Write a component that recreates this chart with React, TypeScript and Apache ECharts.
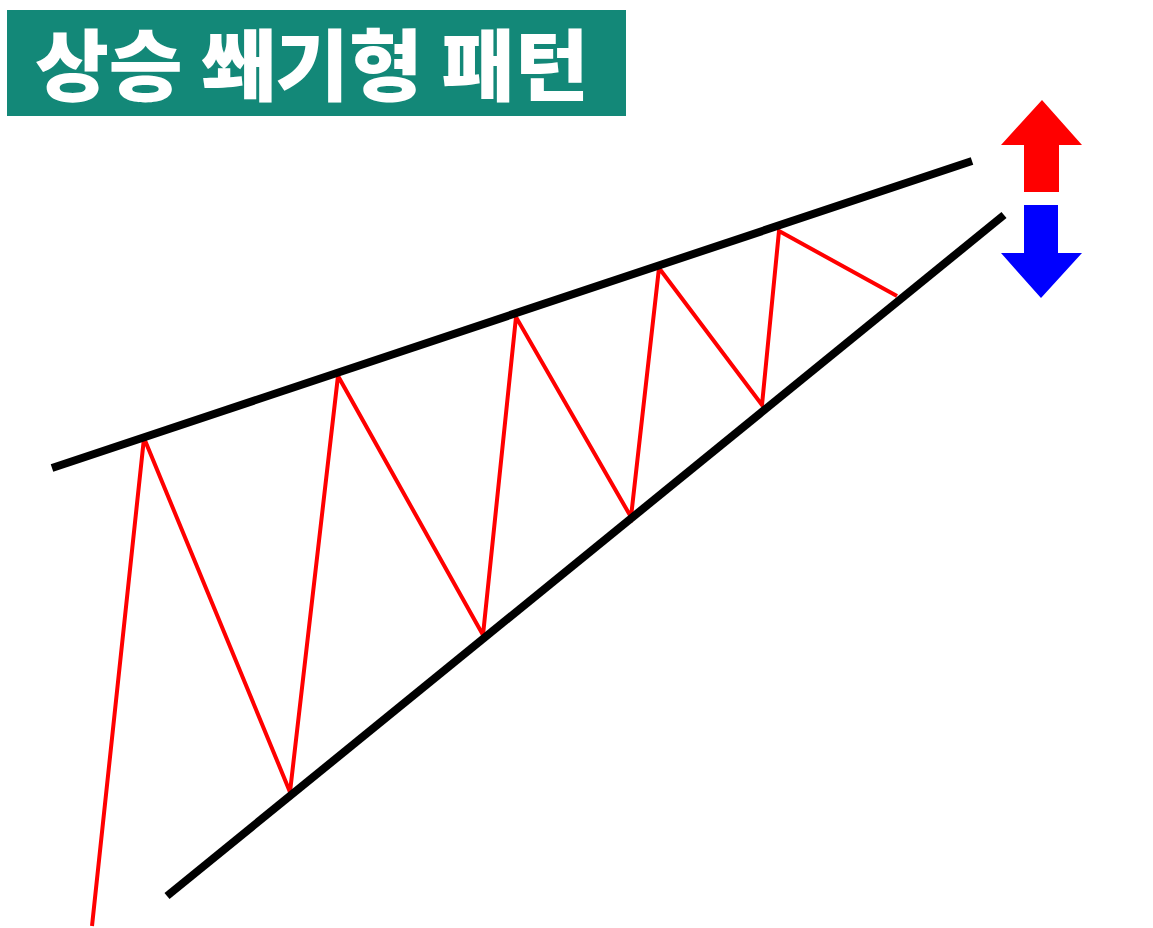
import React, { useEffect, useRef } from "react";
import * as echarts from "echarts";

const W = 1153;
const H = 928;

const titleText = "상승 쐐기형 패턴";

// upper resistance line (x, y in picture units, y downward)
const upperX = [52, 972];
const upperY = [468, 161];
// lower support line
const lowerX = [167, 1004];
const lowerY = [896, 215];
// red price zigzag
const priceX = [92, 144, 290, 338, 483, 516, 631, 659, 762, 779, 897];
const priceY = [926, 438, 792, 376, 635, 317, 517, 268, 405, 231, 296];

const pairs = (xs: number[], ys: number[]) => xs.map((x, i) => [x, ys[i]]);

export default function App() {
  const ref = useRef<HTMLDivElement>(null);
  useEffect(() => {
    document.body.style.margin = "0";
    const chart = echarts.init(ref.current!, null, { renderer: "svg" });
    chart.setOption({
      animation: false,
      backgroundColor: "#ffffff",
      grid: { left: 0, right: 0, top: 0, bottom: 0 },
      xAxis: { type: "value", min: 0, max: W, show: false },
      yAxis: { type: "value", min: 0, max: H, inverse: true, show: false },
      series: [
        {
          type: "line",
          data: pairs(priceX, priceY),
          symbol: "none",
          lineStyle: { color: "#ff0000", width: 4, join: "miter" },
          z: 2,
        },
        {
          type: "line",
          data: pairs(upperX, upperY),
          symbol: "none",
          lineStyle: { color: "#000000", width: 8 },
          z: 3,
        },
        {
          type: "line",
          data: pairs(lowerX, lowerY),
          symbol: "none",
          lineStyle: { color: "#000000", width: 8 },
          z: 3,
        },
      ],
      graphic: [
        {
          type: "rect",
          shape: { x: 7, y: 10, width: 619, height: 106 },
          style: { fill: "#138878" },
        },
        {
          type: "text",
          x: 312,
          y: 61,
          scaleX: 1.03,
          style: {
            text: titleText,
            fill: "#ffffff",
            font: '900 78px "Noto Sans CJK KR"',
            align: "center",
            verticalAlign: "middle",
          },
        },
        {
          type: "polygon",
          shape: {
            points: [
              [1042, 100],
              [1082, 145],
              [1059, 145],
              [1059, 192],
              [1024, 192],
              [1024, 145],
              [1001, 145],
            ],
          },
          style: { fill: "#ff0000" },
        },
        {
          type: "polygon",
          shape: {
            points: [
              [1024, 205],
              [1058, 205],
              [1058, 253],
              [1082, 253],
              [1041, 298],
              [1001, 253],
              [1024, 253],
            ],
          },
          style: { fill: "#0000ff" },
        },
      ],
    });
    return () => chart.dispose();
  }, []);
  return <div ref={ref} style={{ width: W, height: H }} />;
}
